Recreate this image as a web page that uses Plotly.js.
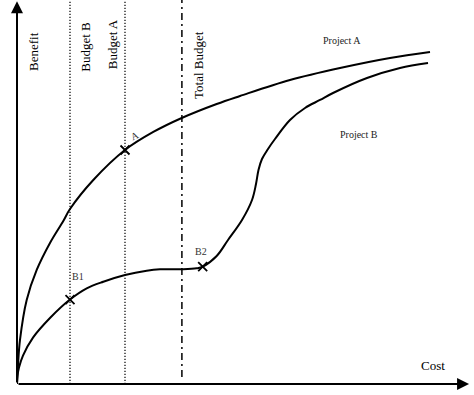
<!DOCTYPE html>
<html>
<head>
<meta charset="utf-8">
<script src="https://cdn.plot.ly/plotly-3.0.1.min.js"></script>
<style>html,body{margin:0;padding:0;background:#fff;}#chart{width:474px;height:395px;}</style>
</head>
<body>
<div id="chart"></div>
<script>
// Cost (x) and benefit (y), in percent of the axis length
const costA    = [0, 0.22, 0.66, 2.14, 4.35, 7.28, 10.22, 11.70, 16.84, 23.84, 30.09, 36.36, 44.08, 49.23, 60.26, 71.30, 82.34, 91.17];
const benefitA = [0, 4.9, 11.46, 21.88, 29.69, 36.72, 42.45, 45.57, 53.13, 60.94, 65.63, 69.27, 72.92, 75.0, 79.17, 82.29, 84.90, 86.46];
const costB    = [0, 0.11, 0.44, 1.32, 3.53, 7.28, 11.70, 15.39, 19.05, 23.84, 28.63, 31.57, 36.71, 39.67, 40.99, 44.08, 46.58, 49.67, 51.88, 52.76, 53.31, 54.08, 55.41, 56.95, 60.26, 63.58, 66.89, 69.76, 77.26, 84.55, 90.73];
const benefitB = [0, 2.14, 4.27, 7.40, 12.08, 17.19, 22.0, 24.92, 26.64, 28.39, 29.51, 29.87, 29.87, 30.13, 30.55, 33.33, 37.5, 42.71, 47.92, 52.08, 55.73, 58.59, 61.20, 63.80, 68.75, 71.88, 73.96, 75.78, 79.69, 82.29, 83.59];

const budgetNames = ['Budget B', 'Budget A', 'Total Budget'];
const budgetCost  = [11.7, 23.84, 36.4];

const pointNames   = ['A', 'B1', 'B2'];
const pointCost    = [23.84, 11.70, 40.99];
const pointBenefit = [60.94, 22.0, 30.55];

const projectNames = ['Project A', 'Project B'];
const axisNames    = ['Cost', 'Benefit'];

const serif = 'Liberation Serif, Times New Roman, serif';

const traces = [];
budgetCost.forEach((c, i) => {
  const total = i === 2;
  traces.push({
    x: [c, c], y: [total ? 1.8 : 0, 100], mode: 'lines', hoverinfo: 'skip',
    line: {color: '#111', width: total ? 1.6 : 1.3, dash: total ? '7px,4px,2px,4px' : '1.3px,1.7px'}
  });
});
traces.push({x: costA, y: benefitA, mode: 'lines', line: {color: '#000', width: 2, shape: 'spline', smoothing: 1}});
traces.push({x: costB, y: benefitB, mode: 'lines', line: {color: '#000', width: 2, shape: 'spline', smoothing: 1}});
traces.push({x: pointCost, y: pointBenefit, mode: 'markers',
  marker: {symbol: 'x-thin', size: 9, line: {color: '#000', width: 1.8}}});

const annotations = [];
// axes with arrow heads
annotations.push({x: 99.8, y: 0, ax: 0, ay: 0, xref: 'x', yref: 'y', axref: 'x', ayref: 'y',
  text: '', showarrow: true, arrowhead: 2, arrowsize: 1.2, arrowwidth: 2, arrowcolor: '#000'});
annotations.push({x: 0, y: 99.7, ax: 0, ay: 0, xref: 'x', yref: 'y', axref: 'x', ayref: 'y',
  text: '', showarrow: true, arrowhead: 2, arrowsize: 1.2, arrowwidth: 2, arrowcolor: '#000'});

const vlabelPos = [[15.2, 87.8], [21.0, 88.5], [40.2, 83.1]];
budgetNames.forEach((n, i) => {
  annotations.push({x: vlabelPos[i][0], y: vlabelPos[i][1], text: n, showarrow: false, textangle: -90,
    font: {family: serif, size: 13, color: '#000'}});
});
annotations.push({x: 3.5, y: 86.7, text: axisNames[1], showarrow: false, textangle: -90,
  font: {family: serif, size: 13, color: '#000'}});
annotations.push({x: 91.8, y: 4.7, text: axisNames[0], showarrow: false,
  font: {family: serif, size: 13, color: '#000'}});

const plabelPos = [[71.7, 89.4], [75.5, 65.1]];
projectNames.forEach((n, i) => {
  annotations.push({x: plabelPos[i][0], y: plabelPos[i][1], text: n, showarrow: false,
    font: {family: serif, size: 10, color: '#222'}});
});

const ptLabelPos = [[26.1, 64.6, -25], [13.4, 28.1, 0], [40.6, 34.4, 0]];
pointNames.forEach((n, i) => {
  annotations.push({x: ptLabelPos[i][0], y: ptLabelPos[i][1], text: n, showarrow: false,
    textangle: ptLabelPos[i][2], font: {family: serif, size: 10, color: '#333'}});
});

const layout = {
  width: 474, height: 395,
  margin: {l: 17, r: 4, t: 0, b: 11, pad: 0},
  paper_bgcolor: '#fff', plot_bgcolor: '#fff',
  showlegend: false,
  xaxis: {range: [0, 100], visible: false, fixedrange: true},
  yaxis: {range: [0, 100], visible: false, fixedrange: true},
  annotations: annotations
};

Plotly.newPlot('chart', traces, layout, {displayModeBar: false, staticPlot: true});
</script>
</body>
</html>
